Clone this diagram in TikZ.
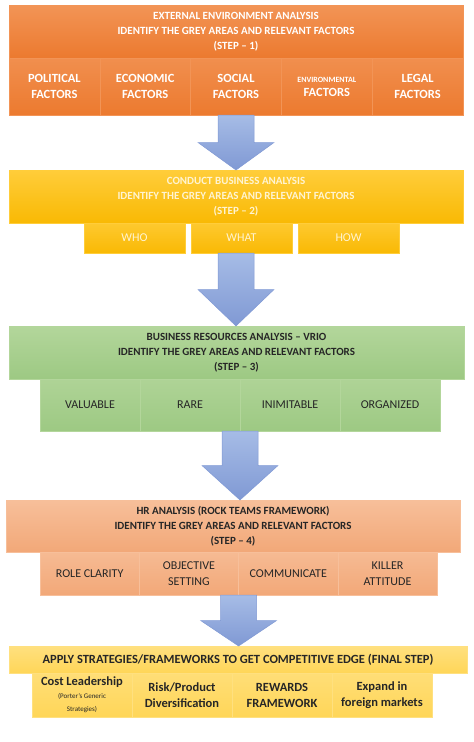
\documentclass[tikz,border=0pt]{standalone}
\usepackage{fontspec}
\setmainfont{Carlito}
\usetikzlibrary{positioning,calc}
\definecolor{pumpkin}{HTML}{EC7A2F}
\definecolor{pumpkinlt}{HTML}{F29456}
\definecolor{marigold}{HTML}{F9B904}
\definecolor{marigoldlt}{HTML}{FFCD3A}
\definecolor{sage}{HTML}{9DC983}
\definecolor{sagelt}{HTML}{B3D69B}
\definecolor{peach}{HTML}{F2A878}
\definecolor{peachlt}{HTML}{F7BF9A}
\definecolor{butter}{HTML}{FFD658}
\definecolor{butterlt}{HTML}{FFE07F}
\definecolor{cornflower}{HTML}{8099D4}
\definecolor{cornflowerlt}{HTML}{A6BCE6}
\definecolor{ink}{HTML}{262626}
\definecolor{cream}{HTML}{FFF4D2}
\tikzset{
  headbox/.style={
    rectangle, draw=#1lt, top color=#1lt, bottom color=#1, line width=0.6pt,
    inner sep=0pt, outer sep=0pt, align=center,
    font=\fontsize{11}{15}\selectfont\bfseries
  },
  headbox/.default=pumpkin,
  cellbox/.style={
    rectangle, draw=#1lt, top color=#1lt!80!#1, bottom color=#1, line width=0.6pt,
    inner sep=0pt, outer sep=0pt, align=center,
    font=\fontsize{12}{16}\selectfont
  },
  cellbox/.default=pumpkin,
  bigarrow/.style={
    draw=cornflower, top color=cornflowerlt, bottom color=cornflower, line width=0.5pt
  },
}
% block arrow from the bottom of one step down to the top of the next
\newcommand{\steparrow}[2]{%
  \path[bigarrow] let \p1=(#1), \p2=(#2) in
    ({\x1-18pt},\y1) -- ({\x1+18pt},\y1) -- ({\x1+18pt},{0.5*\y1+0.5*\y2})
    -- ({\x1+38pt},{0.5*\y1+0.5*\y2}) -- (\x1,\y2)
    -- ({\x1-38pt},{0.5*\y1+0.5*\y2}) -- ({\x1-18pt},{0.5*\y1+0.5*\y2}) -- cycle;}

\begin{document}
\begin{tikzpicture}[x=1pt,y=-1pt]
  \useasboundingbox (0,0) rectangle (474,742);

  % Step 1
  \node[headbox=pumpkin, text=white, minimum width=454, minimum height=53] (h1) at (236,31.5)
    {EXTERNAL ENVIRONMENT ANALYSIS\\IDENTIFY THE GREY AREAS AND RELEVANT FACTORS\\(STEP -- 1)};
  \node[cellbox=pumpkin, text=white, font=\fontsize{12.5}{16}\selectfont\bfseries,
        minimum width=90.8, minimum height=57, below right=0pt and 0pt of h1.south west] (c11)
    {POLITICAL\\FACTORS};
  \node[cellbox=pumpkin, text=white, font=\fontsize{12.5}{16}\selectfont\bfseries,
        minimum width=90.8, minimum height=57, right=0pt of c11] (c12) {ECONOMIC\\FACTORS};
  \node[cellbox=pumpkin, text=white, font=\fontsize{12.5}{16}\selectfont\bfseries,
        minimum width=90.8, minimum height=57, right=0pt of c12] (c13) {SOCIAL\\FACTORS};
  \node[cellbox=pumpkin, text=white, font=\fontsize{12.5}{14}\selectfont\bfseries,
        minimum width=90.8, minimum height=57, right=0pt of c13] (c14)
    {{\fontsize{8}{9}\selectfont ENVIRONMENTAL}\\FACTORS};
  \node[cellbox=pumpkin, text=white, font=\fontsize{12.5}{16}\selectfont\bfseries,
        minimum width=90.8, minimum height=57, right=0pt of c14] (c15) {LEGAL\\FACTORS};

  % Step 2
  \node[headbox=marigold, text=cream, minimum width=454, minimum height=53] (h2) at (236,196.5)
    {CONDUCT BUSINESS ANALYSIS\\IDENTIFY THE GREY AREAS AND RELEVANT FACTORS\\(STEP -- 2)};
  \node[cellbox=marigold, text=cream, minimum width=101, minimum height=30,
        below right=0pt and 75pt of h2.south west] (c21) {WHO};
  \node[cellbox=marigold, text=cream, minimum width=101, minimum height=30,
        right=6pt of c21] (c22) {WHAT};
  \node[cellbox=marigold, text=cream, minimum width=101, minimum height=30,
        right=6pt of c22] (c23) {HOW};

  % Step 3
  \node[headbox=sage, text=ink, minimum width=455, minimum height=53] (h3) at (236.5,352.5)
    {BUSINESS RESOURCES ANALYSIS -- VRIO\\IDENTIFY THE GREY AREAS AND RELEVANT FACTORS\\(STEP -- 3)};
  \node[cellbox=sage, text=ink, minimum width=100, minimum height=52,
        below right=0pt and 31pt of h3.south west] (c31) {VALUABLE};
  \node[cellbox=sage, text=ink, minimum width=100, minimum height=52, right=0pt of c31] (c32) {RARE};
  \node[cellbox=sage, text=ink, minimum width=100, minimum height=52, right=0pt of c32] (c33) {INIMITABLE};
  \node[cellbox=sage, text=ink, minimum width=100, minimum height=52, right=0pt of c33] (c34) {ORGANIZED};

  % Step 4
  \node[headbox=peach, text=ink, minimum width=454, minimum height=52] (h4) at (233,526)
    {HR ANALYSIS (ROCK TEAMS FRAMEWORK)\\IDENTIFY THE GREY AREAS AND RELEVANT FACTORS\\(STEP -- 4)};
  \node[cellbox=peach, text=ink, minimum width=99.3, minimum height=43,
        below right=0pt and 34pt of h4.south west] (c41) {ROLE CLARITY};
  \node[cellbox=peach, text=ink, minimum width=99.3, minimum height=43, right=0pt of c41] (c42)
    {OBJECTIVE\\SETTING};
  \node[cellbox=peach, text=ink, minimum width=99.3, minimum height=43, right=0pt of c42] (c43)
    {COMMUNICATE};
  \node[cellbox=peach, text=ink, minimum width=99.3, minimum height=43, right=0pt of c43] (c44)
    {KILLER\\ATTITUDE};

  % Final step
  \node[headbox=butter, text=ink, font=\fontsize{12.5}{14}\selectfont\bfseries,
        minimum width=458, minimum height=27] (h5) at (238,659.5)
    {APPLY STRATEGIES/FRAMEWORKS TO GET COMPETITIVE EDGE (FINAL STEP)};
  \node[cellbox=butter, text=ink, font=\fontsize{12.5}{13}\selectfont\bfseries,
        minimum width=100, minimum height=44, below right=0pt and 23pt of h5.south west] (c51)
    {Cost Leadership\\{\fontsize{7}{10}\mdseries\selectfont (Porter's Generic}\\
     {\fontsize{7}{10}\mdseries\selectfont Strategies)}};
  \node[cellbox=butter, text=ink, font=\fontsize{12.5}{16}\selectfont\bfseries,
        minimum width=100, minimum height=44, right=0pt of c51] (c52) {Risk/Product\\Diversification};
  \node[cellbox=butter, text=ink, font=\fontsize{12.5}{16}\selectfont\bfseries,
        minimum width=100, minimum height=44, right=0pt of c52] (c53) {REWARDS\\FRAMEWORK};
  \node[cellbox=butter, text=ink, font=\fontsize{12.5}{16}\selectfont\bfseries,
        minimum width=100, minimum height=44, right=0pt of c53] (c54) {Expand in\\foreign markets};

  % Arrows between the steps
  \steparrow{c13.south}{h2.north}
  \steparrow{h2.center |- c22.south}{h3.north}
  \steparrow{c32.south east}{h4.north}
  \steparrow{c42.south east}{h5.north}
\end{tikzpicture}
\end{document}
